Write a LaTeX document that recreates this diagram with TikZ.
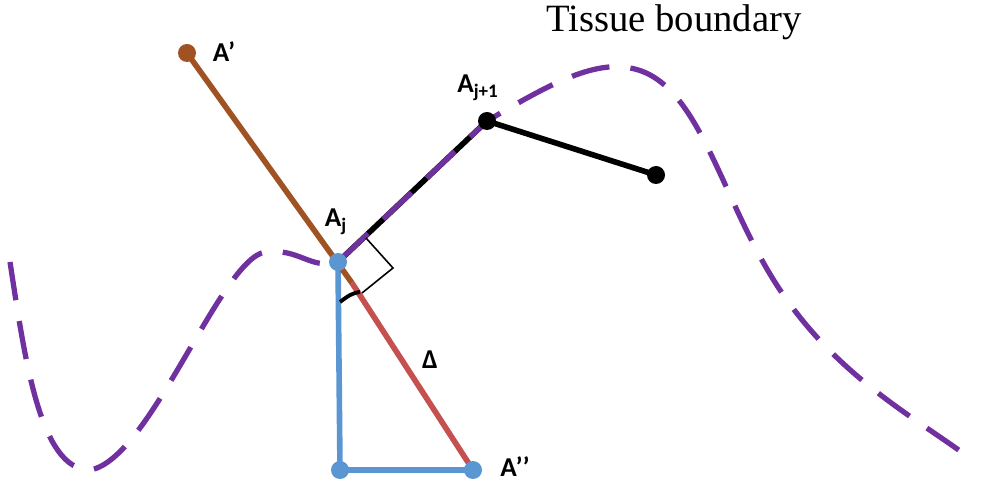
\documentclass[tikz,border=0pt]{standalone}
\usepackage{fontspec}
\setmainfont{Liberation Serif}
\newfontfamily\lab{Carlito}
\begin{document}
\begin{tikzpicture}[x=0.02cm,y=-0.02cm,
  lbl/.style={font=\lab\bfseries\fontsize{15.5}{18}\selectfont},
  dot/.style={circle,inner sep=0pt,minimum size=0.36cm}]
\useasboundingbox (0,0) rectangle (986,492);
\definecolor{brn}{RGB}{160,82,35}
\definecolor{rd}{RGB}{196,80,80}
\definecolor{blu}{RGB}{90,150,210}
\definecolor{pur}{RGB}{112,48,160}
\coordinate (Ap) at (187,53);
\coordinate (Aj) at (338,262);
\coordinate (App) at (473,470);
\coordinate (Bl) at (340,470);
\coordinate (Aj1) at (487,121);
\coordinate (E) at (656,175);
\coordinate (M) at (352,283);
% black segment
\draw[black,line width=3.2pt] (Aj) -- (Aj1) -- (E);
% purple boundary
\draw[pur,line width=3pt,dash pattern=on 22pt off 12pt]
 (10,262) .. controls (25,360) and (40,470) .. (90,470)
 .. controls (150,460) and (220,260) .. (265,252)
 .. controls (300,248) and (310,270) .. (338,262)
 -- (487,121)
 .. controls (540,90) and (590,60) .. (630,68)
 .. controls (700,80) and (720,200) .. (780,290)
 .. controls (840,380) and (920,420) .. (975,462);
% blue
\draw[blu,line width=3.2pt] (Aj) -- (Bl) -- (App);
% brown/red
\draw[brn,line width=3.2pt] (Ap) -- (M);
\draw[rd,line width=3.2pt] (M) -- (App);
% right angle
\draw[black,line width=0.9pt] (366,238) -- (393,268) -- (362,293);
\draw[black,line width=2.2pt] (340,302) .. controls (348,296) and (352,293) .. (360,292);
% dots
\node[dot,fill=brn] (nAp) at (Ap) {};
\node[dot,fill=blu] (nAj) at (Aj) {};
\node[dot,fill=blu] (nApp) at (App) {};
\node[dot,fill=blu] (nBl) at (Bl) {};
\node[dot,fill=black] (nAj1) at (Aj1) {};
\node[dot,fill=black] (nE) at (E) {};
% labels
\node[lbl] at (224,52) {A’};
\node[lbl] at (336,222) {A\textsubscript{j}};
\node[lbl] at (478,88) {A\textsubscript{j+1}};
\node[lbl] at (430,360) {Δ};
\node[lbl] at (515,467) {A’’};
\node[font=\fontsize{22}{26}\selectfont] at (674,22) {Tissue boundary};
\end{tikzpicture}
\end{document}
